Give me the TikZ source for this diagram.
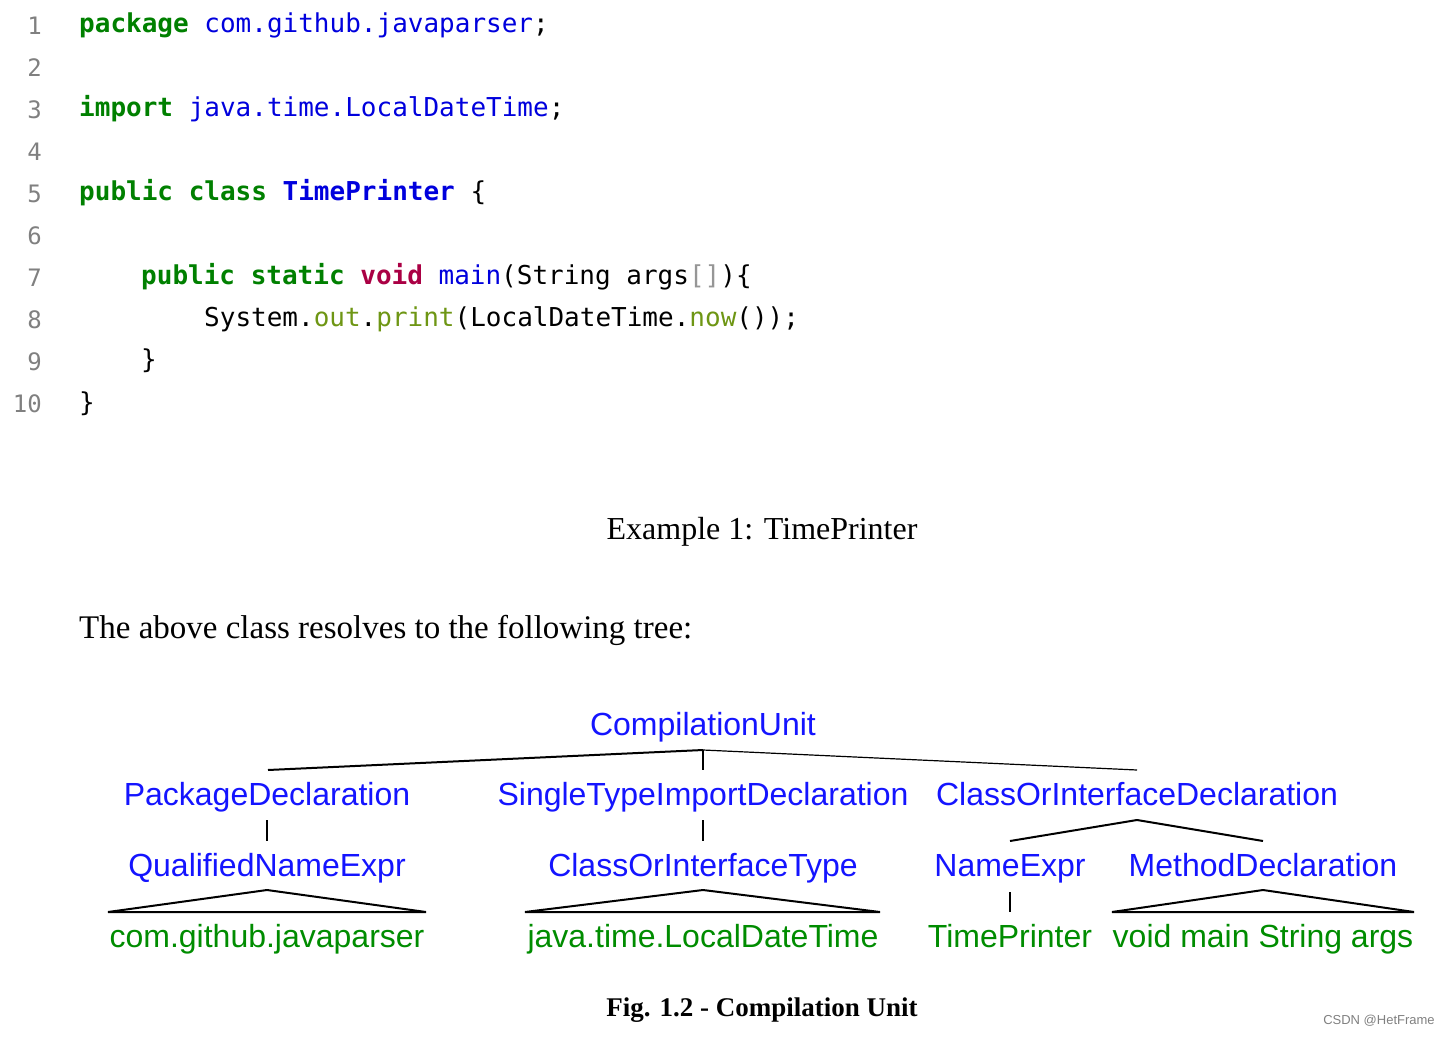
\documentclass[tikz,border=0pt]{standalone}
\usepackage{fontspec}
\setmainfont{Liberation Serif}
\newfontfamily\codef{DejaVu Sans Mono}
\newfontfamily\treef{Liberation Sans}
\definecolor{kw}{RGB}{0,128,0}
\definecolor{nm}{RGB}{0,0,221}
\definecolor{vd}{RGB}{170,0,68}
\definecolor{ol}{RGB}{110,150,20}
\definecolor{br}{RGB}{150,150,150}
\definecolor{tb}{RGB}{20,20,255}
\definecolor{tg}{RGB}{0,140,0}
\begin{document}
\begin{tikzpicture}[x=1pt,y=-1pt,
  ln/.style={anchor=east,font=\codef\fontsize{24}{24}\selectfont,text=gray,inner sep=0},
  cl/.style={anchor=west,font=\codef\fontsize{26}{26}\selectfont,inner sep=0,text height=19,text depth=6},
  tn/.style={font=\treef\fontsize{32}{32}\selectfont,text=tb,inner sep=0,text height=23,text depth=7},
  tl/.style={font=\treef\fontsize{32}{32}\selectfont,text=tg,inner sep=0,text height=23,text depth=7},
  ed/.style={line width=2pt}]
\useasboundingbox (0,0) rectangle (1448,1036);
\foreach \i in {1,...,10}{\node[ln] (n\i) at (42,{26+42*(\i-1)}) {\i};}
\node[cl] (c1) at (79,26) {\textcolor{kw}{\bfseries package} \textcolor{nm}{com.github.javaparser};};
\node[cl] (c3) at (79,110) {\textcolor{kw}{\bfseries import} \textcolor{nm}{java.time.LocalDateTime};};
\node[cl] (c5) at (79,194) {\textcolor{kw}{\bfseries public class} \textcolor{nm}{\bfseries TimePrinter} \{};
\node[cl] (c7) at (141,278) {\textcolor{kw}{\bfseries public static} \textcolor{vd}{\bfseries void} \textcolor{nm}{main}(String args\textcolor{br}{[]})\{};
\node[cl] (c8) at (204,320) {System.\textcolor{ol}{out}.\textcolor{ol}{print}(LocalDateTime.\textcolor{ol}{now}());};
\node[cl] (c9) at (141,362) {\}};
\node[cl] (c10) at (79,405) {\}};
\node[font=\fontsize{32}{32}\selectfont,inner sep=0] (cap) at (762,532) {Example 1: TimePrinter};
\node[font=\fontsize{33}{33}\selectfont,inner sep=0,anchor=west] (txt) at (79,630) {The above class resolves to the following tree:};
% tree
\node[tn] (cu) at (703,727) {CompilationUnit};
\node[tn] (pd) at (267,797) {PackageDeclaration};
\node[tn] (st) at (703,797) {SingleTypeImportDeclaration};
\node[tn] (cd) at (1137,797) {ClassOrInterfaceDeclaration};
\node[tn] (qn) at (267,868) {QualifiedNameExpr};
\node[tn] (ct) at (703,868) {ClassOrInterfaceType};
\node[tn] (ne) at (1010,868) {NameExpr};
\node[tn] (md) at (1263,868) {MethodDeclaration};
\node[tl] (l1) at (267,939) {com.github.javaparser};
\node[tl] (l2) at (703,939) {java.time.LocalDateTime};
\node[tl] (l3) at (1010,939) {TimePrinter};
\node[tl] (l4) at (1263,939) {void main String args};
\coordinate (cuA) at (703,750);
\coordinate (pdT) at (268,770);
\coordinate (cdT) at (1137,770);
\draw[ed] (cuA) -- (pdT);
\draw[ed,line width=1.2pt] (cuA) -- (cdT);
\draw[line width=1.2pt] (cuA) -- (703,770);
\draw[line width=1.2pt] (267,820) -- (267,841);
\draw[line width=1.2pt] (703,820) -- (703,841);
\coordinate (cdA) at (1137,820);
\draw[ed] (cdA) -- (1010,841);
\draw[ed] (cdA) -- (1263,841);
\draw[line width=1.2pt] (1010,892) -- (1010,912);
\draw[ed] (108,912) -- (267,890) -- (426,912) -- cycle;
\draw[ed] (525,912) -- (703,890) -- (880,912) -- cycle;
\draw[ed] (1112,912) -- (1263,890) -- (1414,912) -- cycle;
\node[font=\bfseries\fontsize{27}{27}\selectfont,inner sep=0] (fig) at (762,1010) {Fig. 1.2 - Compilation Unit};
\node[font=\treef\fontsize{13}{13}\selectfont,text=gray,inner sep=0] (wm) at (1379,1021) {CSDN @HetFrame};
\end{tikzpicture}
\end{document}
